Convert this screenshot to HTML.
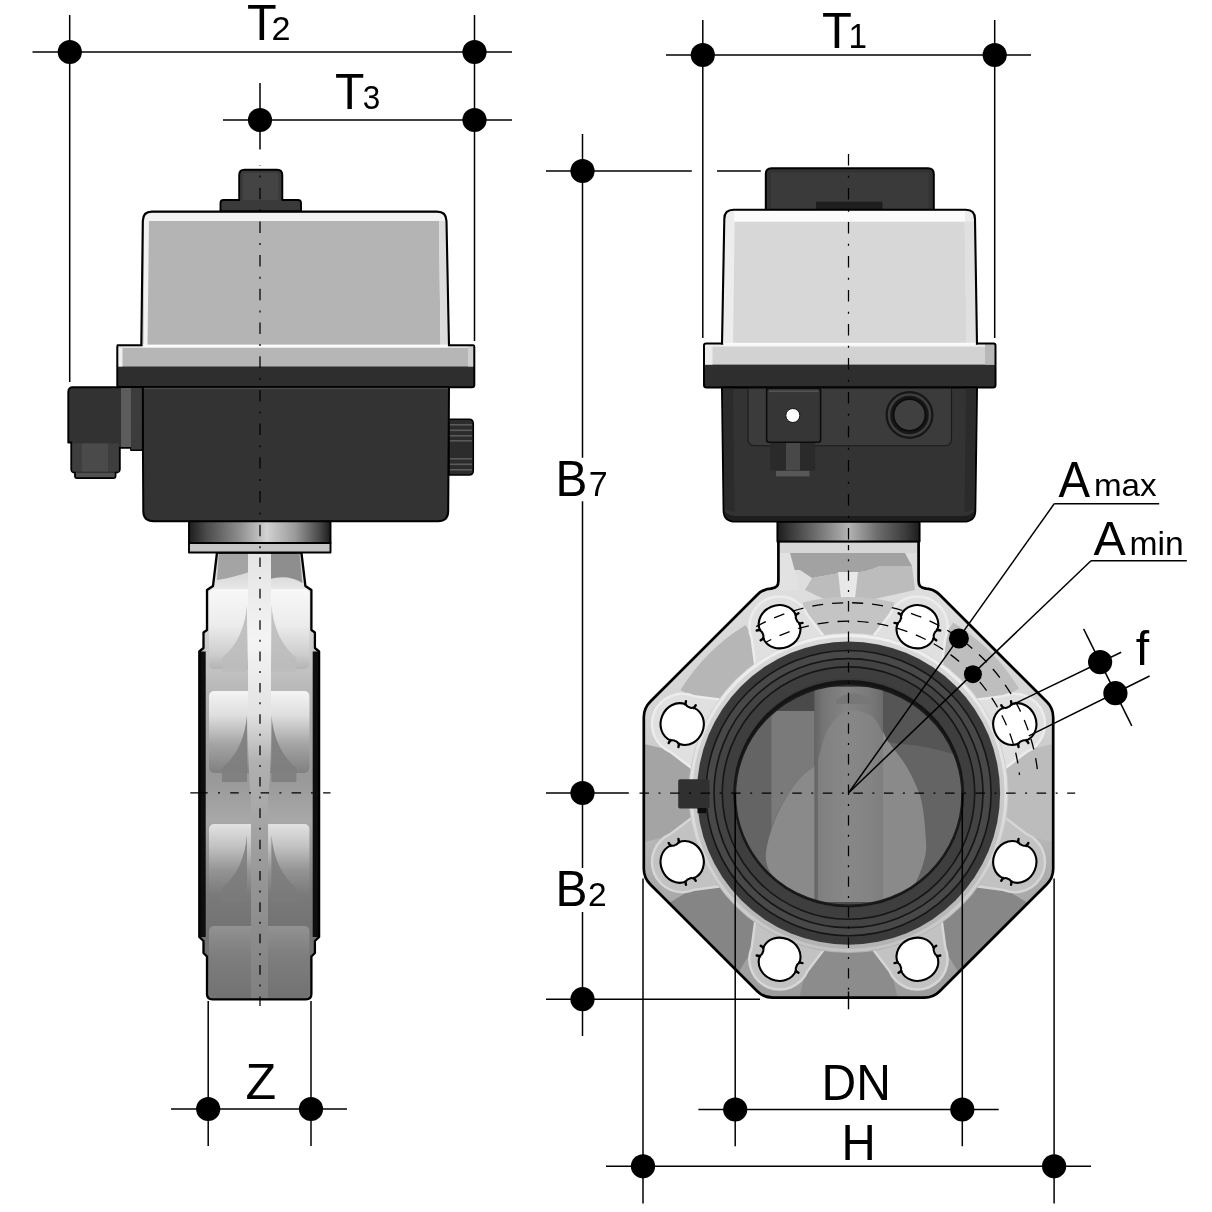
<!DOCTYPE html>
<html lang="en"><head><meta charset="utf-8"><title>Dimensions</title>
<style>
html,body{margin:0;padding:0;background:#fff}
svg{display:block;will-change:transform}
text{font-family:"Liberation Sans",sans-serif;fill:#000}
</style></head>
<body>
<svg width="1212" height="1212" viewBox="0 0 1212 1212">
<rect width="1212" height="1212" fill="#fff"/>
<defs>
<linearGradient id="gNeck" x1="0" y1="0" x2="1" y2="0">
 <stop offset="0" stop-color="#1c1c1c"/><stop offset="0.12" stop-color="#4a4a4a"/>
 <stop offset="0.35" stop-color="#8c8c8c"/><stop offset="0.55" stop-color="#d2d2d2"/>
 <stop offset="0.75" stop-color="#9a9a9a"/><stop offset="0.92" stop-color="#4a4a4a"/>
 <stop offset="1" stop-color="#1c1c1c"/>
</linearGradient>
<linearGradient id="gNeckR" x1="0" y1="0" x2="1" y2="0">
 <stop offset="0" stop-color="#1c1c1c"/><stop offset="0.1" stop-color="#3c3c3c"/>
 <stop offset="0.3" stop-color="#767676"/><stop offset="0.5" stop-color="#b4b4b4"/>
 <stop offset="0.7" stop-color="#6e6e6e"/><stop offset="0.9" stop-color="#3c3c3c"/>
 <stop offset="1" stop-color="#1c1c1c"/>
</linearGradient>
<linearGradient id="gBodyL" gradientUnits="userSpaceOnUse" x1="0" y1="552" x2="0" y2="1000">
 <stop offset="0" stop-color="#c4c4c4"/>
 <stop offset="0.08" stop-color="#e6e6e6"/>
 <stop offset="0.26" stop-color="#c2c2c2"/>
 <stop offset="0.33" stop-color="#b4b4b4"/>
 <stop offset="0.5" stop-color="#989898"/>
 <stop offset="0.6" stop-color="#a8a8a8"/>
 <stop offset="0.76" stop-color="#7a7a7a"/>
 <stop offset="0.85" stop-color="#727272"/>
 <stop offset="1" stop-color="#7a7a7a"/>
</linearGradient>
<linearGradient id="gR1" x1="0" y1="0" x2="0" y2="1">
 <stop offset="0" stop-color="#f8f8f8"/><stop offset="0.45" stop-color="#ececec"/><stop offset="0.8" stop-color="#cfcfcf"/><stop offset="1" stop-color="#b4b4b4"/>
</linearGradient>
<linearGradient id="gR2" x1="0" y1="0" x2="0" y2="1">
 <stop offset="0" stop-color="#f4f4f4"/><stop offset="0.3" stop-color="#dedede"/><stop offset="0.65" stop-color="#a4a4a4"/><stop offset="1" stop-color="#808080"/>
</linearGradient>
<linearGradient id="gR3" x1="0" y1="0" x2="0" y2="1">
 <stop offset="0" stop-color="#e2e2e2"/><stop offset="0.3" stop-color="#c4c4c4"/><stop offset="0.65" stop-color="#949494"/><stop offset="1" stop-color="#7a7a7a"/>
</linearGradient>
<linearGradient id="gR4" x1="0" y1="0" x2="0" y2="1">
 <stop offset="0" stop-color="#929292"/><stop offset="0.4" stop-color="#7e7e7e"/><stop offset="1" stop-color="#727272"/>
</linearGradient>
<linearGradient id="gRib" gradientUnits="userSpaceOnUse" x1="0" y1="552" x2="0" y2="1000">
 <stop offset="0" stop-color="#e4e4e4"/><stop offset="0.2" stop-color="#f4f4f4"/><stop offset="0.36" stop-color="#e2e2e2"/>
 <stop offset="0.47" stop-color="#b0b0b0"/><stop offset="0.6" stop-color="#a6a6a6"/><stop offset="0.75" stop-color="#949494"/><stop offset="1" stop-color="#808080"/>
</linearGradient>
<radialGradient id="gDisc" gradientUnits="userSpaceOnUse" cx="848.5" cy="800" r="120">
 <stop offset="0" stop-color="#7e7e7e"/><stop offset="1" stop-color="#6a6a6a"/>
</radialGradient>
<linearGradient id="gShaft" x1="0" y1="0" x2="1" y2="0">
 <stop offset="0" stop-color="#646464"/><stop offset="0.12" stop-color="#747474"/><stop offset="0.45" stop-color="#848484"/>
 <stop offset="0.8" stop-color="#7a7a7a"/><stop offset="1" stop-color="#6c6c6c"/>
</linearGradient>
<linearGradient id="gFlangeR" gradientUnits="userSpaceOnUse" x1="0" y1="588" x2="0" y2="1000">
 <stop offset="0" stop-color="#dedede"/>
 <stop offset="0.3" stop-color="#d4d4d4"/>
 <stop offset="0.5" stop-color="#c2c2c2"/>
 <stop offset="0.7" stop-color="#acacac"/>
 <stop offset="1" stop-color="#9c9c9c"/>
</linearGradient>
<linearGradient id="gRim" gradientUnits="userSpaceOnUse" x1="0" y1="634" x2="0" y2="951">
 <stop offset="0" stop-color="#dadada"/><stop offset="0.5" stop-color="#cacaca"/><stop offset="1" stop-color="#b2b2b2"/>
</linearGradient>
<linearGradient id="gRimHi" gradientUnits="userSpaceOnUse" x1="0" y1="634" x2="0" y2="951">
 <stop offset="0" stop-color="#f0f0f0"/><stop offset="0.5" stop-color="#e0e0e0"/><stop offset="1" stop-color="#c4c4c4"/>
</linearGradient>
</defs>
<g id="leftview" stroke-linejoin="round">
<clipPath id="cBodyL"><path d="M217,552.5 L213,586 L207,590 L207,630 L203.5,632.5 L203.5,648 L199.3,651.5 L199.3,937 L203.5,941 L203.5,953 L207,956.5 L207,994 Q207,999.3 212.5,999.3 L305.9,999.3 Q311.4,999.3 311.4,994 L311.4,956.5 L314.9,953 L314.9,941 L319.1,937 L319.1,651.5 L314.9,648 L314.9,632.5 L311.4,630 L311.4,590 L305.4,586 L301.4,552.5 Z"/></clipPath>
<path d="M217,552.5 L213,586 L207,590 L207,630 L203.5,632.5 L203.5,648 L199.3,651.5 L199.3,937 L203.5,941 L203.5,953 L207,956.5 L207,994 Q207,999.3 212.5,999.3 L305.9,999.3 Q311.4,999.3 311.4,994 L311.4,956.5 L314.9,953 L314.9,941 L319.1,937 L319.1,651.5 L314.9,648 L314.9,632.5 L311.4,630 L311.4,590 L305.4,586 L301.4,552.5 Z" fill="url(#gBodyL)"/>
<g clip-path="url(#cBodyL)">
<path d="M219,553 L249,553 L249,572 Q235,577 217,580 Z" fill="#a4a4a4"/>
<path d="M269.4,553 L299.4,553 L302.4,583 Q288.4,574 269.4,579 Z" fill="#8e8e8e"/>
<rect x="209" y="589" width="100.4" height="80" rx="5" fill="url(#gR1)"/>
<rect x="209" y="691" width="100.4" height="82" rx="5" fill="url(#gR2)"/>
<rect x="209" y="824" width="100.4" height="71" rx="5" fill="url(#gR3)"/>
<rect x="209" y="926" width="100.4" height="72" rx="5" fill="url(#gR4)"/>
<path d="M247,605 Q244,640 222,658 L222,672 L247,672 Z" fill="#bdbdbd" opacity="0.9"/>
<path d="M271.4,605 Q274.4,640 296.4,658 L296.4,672 L271.4,672 Z" fill="#bdbdbd" opacity="0.9"/>
<path d="M247,715 Q244,750 222,768 L222,782 L247,782 Z" fill="#7e7e7e" opacity="0.9"/>
<path d="M271.4,715 Q274.4,750 296.4,768 L296.4,782 L271.4,782 Z" fill="#7e7e7e" opacity="0.9"/>
<path d="M247,835 Q244,870 222,888 L222,902 L247,902 Z" fill="#7a7a7a" opacity="0.8"/>
<path d="M271.4,835 Q274.4,870 296.4,888 L296.4,902 L271.4,902 Z" fill="#7a7a7a" opacity="0.8"/>
<path d="M248,553 L271,553 L271,700 Q272,760 268,800 L268,998 L251,998 L251,800 Q247,760 248,700 Z" fill="url(#gRib)"/>
</g>
<path d="M199.3,651.5 L205.7,651.5 L205.7,937 L199.3,937 Z" fill="#0e0e0e"/>
<path d="M319.1,651.5 L312.7,651.5 L312.7,937 L319.1,937 Z" fill="#0e0e0e"/>
<path d="M217,552.5 L213,586 L207,590 L207,630 L203.5,632.5 L203.5,648 L199.3,651.5 L199.3,937 L203.5,941 L203.5,953 L207,956.5 L207,994 Q207,999.3 212.5,999.3 L305.9,999.3 Q311.4,999.3 311.4,994 L311.4,956.5 L314.9,953 L314.9,941 L319.1,937 L319.1,651.5 L314.9,648 L314.9,632.5 L311.4,630 L311.4,590 L305.4,586 L301.4,552.5 Z" fill="none" stroke="#000" stroke-width="2.3"/>
<rect x="189" y="521" width="141.5" height="22" fill="url(#gNeck)" stroke="#000" stroke-width="1.9"/>
<rect x="189" y="543" width="141.5" height="9.5" fill="#c6c6c6" stroke="#000" stroke-width="1.9"/>
<path d="M220.5,211.5 L220.5,203 Q220.5,200 223.5,200 L239.2,200 L239.2,175 Q239.2,169.7 244.5,169.7 L277,169.7 Q282.3,169.7 282.3,175 L282.3,200 L298,200 Q301,200 301,203 L301,211.5 Z" fill="#3a3a3a" stroke="#000" stroke-width="1.9"/>
<rect x="243" y="173" width="35.5" height="27" rx="2" fill="#444"/>
<path d="M117.5,345.3 L473.3,345.3 Q474.3,345.3 474.3,347 L474.3,385 Q474.3,387.3 472,387.3 L119.5,387.3 Q117.3,387.3 117.3,385 L117.3,347 Z" fill="#2e2e2e"/>
<rect x="117.5" y="345.5" width="356.5" height="21" fill="#b6b6b6"/>
<rect x="117.5" y="345.5" width="5" height="21" fill="#f0f0f0"/>
<rect x="117.5" y="345.8" width="356.5" height="2.2" fill="#e2e2e2"/>
<rect x="468" y="345.5" width="6" height="21" fill="#cfcfcf"/>
<path d="M117.5,345.3 L473.3,345.3 Q474.3,345.3 474.3,347 L474.3,385 Q474.3,387.3 472,387.3 L119.5,387.3 Q117.3,387.3 117.3,385 L117.3,347 Z" fill="none" stroke="#000" stroke-width="2"/>
<path d="M141.3,345 L142.8,221 Q142.8,211.6 152,211.6 L437,211.6 Q446.3,211.6 446.5,221 L449,345 Z" fill="#b4b4b4"/>
<path d="M143.5,345 L144,221 Q144,212.5 152,212.5 L437,212.5 Q445.5,212.5 445.7,221 L448,345 L440.5,345 L439,221 L149,221 L147.5,345 Z" fill="#f2f2f2"/>
<path d="M439,221 L445.7,221 L448,345 L440.5,345 Z" fill="#dcdcdc"/>
<rect x="142.5" y="344.6" width="305.5" height="2.6" fill="#fafafa"/>
<path d="M141.3,346 L142.8,221 Q142.8,211.6 152,211.6 L437,211.6 Q446.3,211.6 446.5,221 L449,346" fill="none" stroke="#000" stroke-width="2.1"/>
<path d="M142.6,387.3 L449,387.3 L448.2,511 Q448.2,521.2 438,521.2 L153.5,521.2 Q143.3,521.2 143.3,511 Z" fill="#333" stroke="#000" stroke-width="2"/>
<rect x="143.5" y="387.8" width="304.5" height="1.3" fill="#4a4a4a"/>
<path d="M142.6,387.3 L73,387.3 Q68.3,387.3 68.3,392 L68.3,442.5 L71.3,442.5 L71.3,469 Q71.3,472.5 75,472.5 L75,476 Q75,478 77,478 L113.5,478 Q115.5,478 115.5,476 L115.5,472.5 Q119.8,472.5 119.8,469 L119.8,447.8 L131,447.8 L131,450 L142.8,450 Z" fill="#323232" stroke="#000" stroke-width="1.9"/>
<rect x="121" y="388" width="10" height="59" fill="#5c5c5c"/>
<rect x="131.2" y="388" width="10.5" height="61.5" fill="#3c3c3c"/>
<rect x="72.3" y="443.5" width="46.5" height="28" fill="#3e3e3e"/>
<rect x="82" y="443.5" width="26" height="28" fill="#4a4a4a"/>
<rect x="76" y="473" width="38.5" height="4.2" fill="#505050"/>
<path d="M449,419.3 L469,419.3 Q473.3,419.3 473.3,424 L473.3,470.5 Q473.3,475 469,475 L449,475 Z" fill="#2c2c2c" stroke="#000" stroke-width="1.5"/>
<rect x="450" y="424" width="22" height="1.6" fill="#5a5a5a"/>
<rect x="450" y="429.5" width="22" height="1.6" fill="#5a5a5a"/>
<rect x="450" y="435" width="22" height="1.6" fill="#5a5a5a"/>
<rect x="450" y="440" width="22" height="1.6" fill="#5a5a5a"/>
<rect x="450" y="458" width="22" height="1.6" fill="#5a5a5a"/>
<rect x="450" y="463.5" width="22" height="1.6" fill="#5a5a5a"/>
<rect x="450" y="469" width="22" height="1.6" fill="#5a5a5a"/>
</g>
<g id="rightview" stroke-linejoin="round">
<clipPath id="cOct"><path d="M778.4,541 L778.4,581 Q778.4,588.3 771.4,588.3 L772.7,588.3 Q763.7,588.3 757.3,594.7 L650.2,701.8 Q643.8,708.2 643.8,717.2 L643.8,868.8 Q643.8,877.8 650.2,884.2 L757.3,991.3 Q763.7,997.7 772.7,997.7 L924.3,997.7 Q933.3,997.7 939.7,991.3 L1046.8,884.2 Q1053.2,877.8 1053.2,868.8 L1053.2,717.2 Q1053.2,708.2 1046.8,701.8 L939.7,594.7 Q933.3,588.3 924.3,588.3 L925.6,588.3 Q918.6,588.3 918.6,581 L918.6,541 Z"/></clipPath>
<path d="M778.4,541 L778.4,581 Q778.4,588.3 771.4,588.3 L772.7,588.3 Q763.7,588.3 757.3,594.7 L650.2,701.8 Q643.8,708.2 643.8,717.2 L643.8,868.8 Q643.8,877.8 650.2,884.2 L757.3,991.3 Q763.7,997.7 772.7,997.7 L924.3,997.7 Q933.3,997.7 939.7,991.3 L1046.8,884.2 Q1053.2,877.8 1053.2,868.8 L1053.2,717.2 Q1053.2,708.2 1046.8,701.8 L939.7,594.7 Q933.3,588.3 924.3,588.3 L925.6,588.3 Q918.6,588.3 918.6,581 L918.6,541 Z" fill="url(#gFlangeR)"/>
<g clip-path="url(#cOct)">
<rect x="779" y="541" width="139" height="12" fill="#d6d6d6"/>
<path d="M784,553 L905,553 L912,566 L880,566 Q860,575 845,572 L812,578 L800,570 L784,570 Z" fill="#a2a2a2"/>
<path d="M812,578 L845,572 Q860,575 880,566 L912,566 L915,590 L870,600 L826,600 L805,590 Z" fill="#bcbcbc"/>
<path d="M779,553 L790,553 L800,590 L779,590 Z" fill="#e2e2e2"/>
<path d="M838,572 L848,660 L858,572 Z" fill="#e8e8e8"/>
<path d="M828,1000 Q830,975 848,972 Q868,975 870,1000 Z" fill="#b4b4b4"/>
<path d="M1072.1,739.3 L1074.1,748.1 L1075.7,757.0 L1076.9,766.0 L1077.8,775.0 L1078.3,784.0 L1078.5,793.0 L1078.3,802.0 L1077.8,811.0 L1076.9,820.0 L1075.7,829.0 L1074.1,837.9 L1072.1,846.7 L994.4,828.0 L995.6,822.3 L996.7,816.5 L997.5,810.6 L998.0,804.8 L998.4,798.9 L998.5,793.0 L998.4,787.1 L998.0,781.2 L997.5,775.4 L996.7,769.5 L995.6,763.7 L994.4,758.0 Z" fill="#bcbcbc" opacity="1"/>
<path d="M1044.6,913.2 L1039.7,920.8 L1034.6,928.2 L1029.1,935.4 L1023.4,942.4 L1017.4,949.1 L1011.1,955.6 L1004.6,961.9 L997.9,967.9 L990.9,973.6 L983.7,979.1 L976.3,984.2 L968.7,989.1 L926.9,920.9 L931.8,917.7 L936.7,914.4 L941.4,910.8 L945.9,907.1 L950.3,903.1 L954.6,899.1 L958.6,894.8 L962.6,890.4 L966.3,885.9 L969.9,881.2 L973.2,876.3 L976.4,871.4 Z" fill="#878787" opacity="1"/>
<path d="M902.2,1016.6 L893.4,1018.6 L884.5,1020.2 L875.5,1021.4 L866.5,1022.3 L857.5,1022.8 L848.5,1023.0 L839.5,1022.8 L830.5,1022.3 L821.5,1021.4 L812.5,1020.2 L803.6,1018.6 L794.8,1016.6 L813.5,938.9 L819.2,940.1 L825.0,941.2 L830.9,942.0 L836.7,942.5 L842.6,942.9 L848.5,943.0 L854.4,942.9 L860.3,942.5 L866.1,942.0 L872.0,941.2 L877.8,940.1 L883.5,938.9 Z" fill="#8c8c8c" opacity="1"/>
<path d="M728.3,989.1 L720.7,984.2 L713.3,979.1 L706.1,973.6 L699.1,967.9 L692.4,961.9 L685.9,955.6 L679.6,949.1 L673.6,942.4 L667.9,935.4 L662.4,928.2 L657.3,920.8 L652.4,913.2 L720.6,871.4 L723.8,876.3 L727.1,881.2 L730.7,885.9 L734.4,890.4 L738.4,894.8 L742.4,899.1 L746.7,903.1 L751.1,907.1 L755.6,910.8 L760.3,914.4 L765.2,917.7 L770.1,920.9 Z" fill="#858585" opacity="1"/>
<path d="M624.9,846.7 L622.9,837.9 L621.3,829.0 L620.1,820.0 L619.2,811.0 L618.7,802.0 L618.5,793.0 L618.7,784.0 L619.2,775.0 L620.1,766.0 L621.3,757.0 L622.9,748.1 L624.9,739.3 L702.6,758.0 L701.4,763.7 L700.3,769.5 L699.5,775.4 L699.0,781.2 L698.6,787.1 L698.5,793.0 L698.6,798.9 L699.0,804.8 L699.5,810.6 L700.3,816.5 L701.4,822.3 L702.6,828.0 Z" fill="#a4a4a4" opacity="1"/>
<path d="M680.5,690.1 L684.7,683.6 L689.1,677.2 L693.8,671.0 L698.7,665.1 L703.8,659.3 L709.2,653.7 L714.8,648.3 L720.6,643.2 L726.5,638.3 L732.7,633.6 L739.1,629.2 L745.6,625.0 L770.1,665.1 L765.2,668.3 L760.3,671.6 L755.6,675.2 L751.1,678.9 L746.7,682.9 L742.4,686.9 L738.4,691.2 L734.4,695.6 L730.7,700.1 L727.1,704.8 L723.8,709.7 L720.6,714.6 Z" fill="#b6b6b6" opacity="1"/>
<path d="M802.7,602.4 L810.3,600.8 L817.8,599.4 L825.5,598.4 L833.1,597.6 L840.8,597.2 L848.5,597.0 L856.2,597.2 L863.9,597.6 L871.5,598.4 L879.2,599.4 L886.7,600.8 L894.3,602.4 L883.5,647.1 L877.8,645.9 L872.0,644.8 L866.1,644.0 L860.3,643.5 L854.4,643.1 L848.5,643.0 L842.6,643.1 L836.7,643.5 L830.9,644.0 L825.0,644.8 L819.2,645.9 L813.5,647.1 Z" fill="#c4c4c4" opacity="1"/>
<path d="M953.0,622.5 L959.6,626.7 L966.1,631.2 L972.3,635.9 L978.4,640.9 L984.3,646.1 L989.9,651.6 L995.4,657.2 L1000.6,663.1 L1005.6,669.2 L1010.3,675.4 L1014.8,681.9 L1019.0,688.5 L976.4,714.6 L973.2,709.7 L969.9,704.8 L966.3,700.1 L962.6,695.6 L958.6,691.2 L954.6,686.9 L950.3,682.9 L945.9,678.9 L941.4,675.2 L936.7,671.6 L931.8,668.3 L926.9,665.1 Z" fill="#bebebe" opacity="1"/>
<path d="M972.0,886.9 L1002.7,891.0 A31.5,31.5 0 0 0 1026.9,832.8 L1002.2,813.9 Z" fill="#d6d6d6"/>
<path d="M972.9,884.6 L1003.7,888.7 A29,29 0 0 0 1025.9,835.1 L1001.2,816.2 Z" fill="#c2c2c2"/>
<path d="M869.4,946.7 L888.3,971.4 A31.5,31.5 0 0 0 946.5,947.2 L942.4,916.5 Z" fill="#d6d6d6"/>
<path d="M871.7,945.7 L890.6,970.4 A29,29 0 0 0 944.2,948.2 L940.1,917.4 Z" fill="#c2c2c2"/>
<path d="M754.6,916.5 L750.5,947.2 A31.5,31.5 0 0 0 808.7,971.4 L827.6,946.7 Z" fill="#d6d6d6"/>
<path d="M756.9,917.4 L752.8,948.2 A29,29 0 0 0 806.4,970.4 L825.3,945.7 Z" fill="#c2c2c2"/>
<path d="M694.8,813.9 L670.1,832.8 A31.5,31.5 0 0 0 694.3,891.0 L725.0,886.9 Z" fill="#d6d6d6"/>
<path d="M695.8,816.2 L671.1,835.1 A29,29 0 0 0 693.3,888.7 L724.1,884.6 Z" fill="#c2c2c2"/>
<path d="M725.0,699.1 L694.3,695.0 A31.5,31.5 0 0 0 670.1,753.2 L694.8,772.1 Z" fill="#ececec"/>
<path d="M724.1,701.4 L693.3,697.3 A29,29 0 0 0 671.1,750.9 L695.8,769.8 Z" fill="#e0e0e0"/>
<path d="M827.6,639.3 L808.7,614.6 A31.5,31.5 0 0 0 750.5,638.8 L754.6,669.5 Z" fill="#ececec"/>
<path d="M825.3,640.3 L806.4,615.6 A29,29 0 0 0 752.8,637.8 L756.9,668.6 Z" fill="#e0e0e0"/>
<path d="M942.4,669.5 L946.5,638.8 A31.5,31.5 0 0 0 888.3,614.6 L869.4,639.3 Z" fill="#ececec"/>
<path d="M940.1,668.6 L944.2,637.8 A29,29 0 0 0 890.6,615.6 L871.7,640.3 Z" fill="#e0e0e0"/>
<path d="M1002.2,772.1 L1026.9,753.2 A31.5,31.5 0 0 0 1002.7,695.0 L972.0,699.1 Z" fill="#ececec"/>
<path d="M1001.2,769.8 L1025.9,750.9 A29,29 0 0 0 1003.7,697.3 L972.9,701.4 Z" fill="#e0e0e0"/>
</g>
<circle cx="848.5" cy="793.0" r="160" fill="url(#gRim)"/>
<circle cx="848.5" cy="793.0" r="157.5" fill="none" stroke="url(#gRimHi)" stroke-width="3"/>
<circle cx="848.5" cy="793.1" r="151.6" fill="#3a3a3a"/>
<circle cx="848.5" cy="793.1" r="138.5" fill="none" stroke="#484848" stroke-width="7.5"/>
<circle cx="848.5" cy="793.1" r="130.3" fill="none" stroke="#434343" stroke-width="7.5"/>
<circle cx="848.5" cy="793.1" r="120.5" fill="none" stroke="#3e3e3e" stroke-width="11"/>
<circle cx="848.5" cy="793.1" r="142.6" fill="none" stroke="#161616" stroke-width="1.6"/>
<circle cx="848.5" cy="793.1" r="134.5" fill="none" stroke="#161616" stroke-width="1.6"/>
<circle cx="848.5" cy="793.1" r="126.2" fill="none" stroke="#161616" stroke-width="1.6"/>
<ellipse cx="848.7" cy="793.7" rx="115.4" ry="113.6" fill="#141414"/>
<rect x="678.2" y="779.2" width="31.3" height="29.3" rx="1.8" fill="#303030"/>
<rect x="697.5" y="808" width="8.7" height="5.2" fill="#0c0c0c"/>
<clipPath id="cDisc"><ellipse cx="848.7" cy="795.0" rx="113.3" ry="110.3"/></clipPath>
<g clip-path="url(#cDisc)">
<rect x="730" y="680" width="240" height="230" fill="#646464"/>
<rect x="730" y="680" width="240" height="31" fill="#4a4a4a"/>
<path d="M883,686 L970,686 L970,760 Q930,745 900,744 L883,741 Z" fill="#555"/>
<path d="M771.5,711 L814.4,711 L814.4,766.6 C800,775 790.8,790 785,800 C778,810 773,822 771.5,830 Z" fill="#7a7a7a"/>
<path d="M848.8,710.8 C838,713 828,725 823,741 L814.4,766.6 C800,775 790.8,790 785,800 C775,815 768,838 766,852 C765,862 768,870 771.5,874 L790,908 L905,908 L919.6,873.8 C925,860 927,850 926,841.6 C925,825 924,810 920,795 C915,783 910,770 900,757 C893,748 890,744 887.4,740.8 C882,728 877,719 870.2,715 C862,711 855,710 848.8,710.8 Z" fill="#8a8a8a"/>
<rect x="814.4" y="687" width="68.6" height="215" fill="url(#gShaft)"/>
<path d="M848.8,710.8 C838,713 828,725 823,741 L818,760 L818,902 L883,902 L883,735 C880,725 876,719 870.2,715 C862,711 855,710 848.8,710.8 Z" fill="#8a8a8a" opacity="0.6"/>
<path d="M836,700 Q850,688 870,698 L872,704 L836,704 Z" fill="#777"/>
<rect x="730" y="902" width="240" height="10" fill="#4c4c4c"/>
</g>
<ellipse cx="848.7" cy="795.0" rx="113.3" ry="110.3" fill="none" stroke="#1c1c1c" stroke-width="1.5"/>
<g transform="translate(1014.8,861.9) rotate(22.5)">
<path d="M-4.2,-19.6 Q-2,-17.8 0,-18.3 Q2,-17.8 4.2,-19.6 C15,-19.3 21.6,-10 21.6,0 C21.6,10 15,19.3 4.2,19.6 Q2,17.8 0,18.3 Q-2,17.8 -4.2,19.6 C-15,19.3 -21.6,10 -21.6,0 C-21.6,-10 -15,-19.3 -4.2,-19.6 Z" fill="#fff" stroke="#000" stroke-width="2.1"/>
<line x1="-4.6" y1="-19.20" x2="-5.29" y2="-22.60" stroke="#000" stroke-width="2.4" stroke-linecap="round"/>
<line x1="-4.6" y1="19.20" x2="-5.29" y2="22.60" stroke="#000" stroke-width="2.4" stroke-linecap="round"/>
<line x1="4.6" y1="-19.20" x2="5.29" y2="-22.60" stroke="#000" stroke-width="2.4" stroke-linecap="round"/>
<line x1="4.6" y1="19.20" x2="5.29" y2="22.60" stroke="#000" stroke-width="2.4" stroke-linecap="round"/>
</g>
<g transform="translate(917.4,959.3) rotate(67.5)">
<path d="M-4.2,-19.6 Q-2,-17.8 0,-18.3 Q2,-17.8 4.2,-19.6 C15,-19.3 21.6,-10 21.6,0 C21.6,10 15,19.3 4.2,19.6 Q2,17.8 0,18.3 Q-2,17.8 -4.2,19.6 C-15,19.3 -21.6,10 -21.6,0 C-21.6,-10 -15,-19.3 -4.2,-19.6 Z" fill="#fff" stroke="#000" stroke-width="2.1"/>
<line x1="-4.6" y1="-19.20" x2="-5.29" y2="-22.60" stroke="#000" stroke-width="2.4" stroke-linecap="round"/>
<line x1="-4.6" y1="19.20" x2="-5.29" y2="22.60" stroke="#000" stroke-width="2.4" stroke-linecap="round"/>
<line x1="4.6" y1="-19.20" x2="5.29" y2="-22.60" stroke="#000" stroke-width="2.4" stroke-linecap="round"/>
<line x1="4.6" y1="19.20" x2="5.29" y2="22.60" stroke="#000" stroke-width="2.4" stroke-linecap="round"/>
</g>
<g transform="translate(779.6,959.3) rotate(112.5)">
<path d="M-4.2,-19.6 Q-2,-17.8 0,-18.3 Q2,-17.8 4.2,-19.6 C15,-19.3 21.6,-10 21.6,0 C21.6,10 15,19.3 4.2,19.6 Q2,17.8 0,18.3 Q-2,17.8 -4.2,19.6 C-15,19.3 -21.6,10 -21.6,0 C-21.6,-10 -15,-19.3 -4.2,-19.6 Z" fill="#fff" stroke="#000" stroke-width="2.1"/>
<line x1="-4.6" y1="-19.20" x2="-5.29" y2="-22.60" stroke="#000" stroke-width="2.4" stroke-linecap="round"/>
<line x1="-4.6" y1="19.20" x2="-5.29" y2="22.60" stroke="#000" stroke-width="2.4" stroke-linecap="round"/>
<line x1="4.6" y1="-19.20" x2="5.29" y2="-22.60" stroke="#000" stroke-width="2.4" stroke-linecap="round"/>
<line x1="4.6" y1="19.20" x2="5.29" y2="22.60" stroke="#000" stroke-width="2.4" stroke-linecap="round"/>
</g>
<g transform="translate(682.2,861.9) rotate(157.5)">
<path d="M-4.2,-19.6 Q-2,-17.8 0,-18.3 Q2,-17.8 4.2,-19.6 C15,-19.3 21.6,-10 21.6,0 C21.6,10 15,19.3 4.2,19.6 Q2,17.8 0,18.3 Q-2,17.8 -4.2,19.6 C-15,19.3 -21.6,10 -21.6,0 C-21.6,-10 -15,-19.3 -4.2,-19.6 Z" fill="#fff" stroke="#000" stroke-width="2.1"/>
<line x1="-4.6" y1="-19.20" x2="-5.29" y2="-22.60" stroke="#000" stroke-width="2.4" stroke-linecap="round"/>
<line x1="-4.6" y1="19.20" x2="-5.29" y2="22.60" stroke="#000" stroke-width="2.4" stroke-linecap="round"/>
<line x1="4.6" y1="-19.20" x2="5.29" y2="-22.60" stroke="#000" stroke-width="2.4" stroke-linecap="round"/>
<line x1="4.6" y1="19.20" x2="5.29" y2="22.60" stroke="#000" stroke-width="2.4" stroke-linecap="round"/>
</g>
<g transform="translate(682.2,724.1) rotate(202.5)">
<path d="M-4.2,-19.6 Q-2,-17.8 0,-18.3 Q2,-17.8 4.2,-19.6 C15,-19.3 21.6,-10 21.6,0 C21.6,10 15,19.3 4.2,19.6 Q2,17.8 0,18.3 Q-2,17.8 -4.2,19.6 C-15,19.3 -21.6,10 -21.6,0 C-21.6,-10 -15,-19.3 -4.2,-19.6 Z" fill="#fff" stroke="#000" stroke-width="2.1"/>
<line x1="-4.6" y1="-19.20" x2="-5.29" y2="-22.60" stroke="#000" stroke-width="2.4" stroke-linecap="round"/>
<line x1="-4.6" y1="19.20" x2="-5.29" y2="22.60" stroke="#000" stroke-width="2.4" stroke-linecap="round"/>
<line x1="4.6" y1="-19.20" x2="5.29" y2="-22.60" stroke="#000" stroke-width="2.4" stroke-linecap="round"/>
<line x1="4.6" y1="19.20" x2="5.29" y2="22.60" stroke="#000" stroke-width="2.4" stroke-linecap="round"/>
</g>
<g transform="translate(779.6,626.7) rotate(247.5)">
<path d="M-4.2,-19.6 Q-2,-17.8 0,-18.3 Q2,-17.8 4.2,-19.6 C15,-19.3 21.6,-10 21.6,0 C21.6,10 15,19.3 4.2,19.6 Q2,17.8 0,18.3 Q-2,17.8 -4.2,19.6 C-15,19.3 -21.6,10 -21.6,0 C-21.6,-10 -15,-19.3 -4.2,-19.6 Z" fill="#fff" stroke="#000" stroke-width="2.1"/>
<line x1="-4.6" y1="-19.20" x2="-5.29" y2="-22.60" stroke="#000" stroke-width="2.4" stroke-linecap="round"/>
<line x1="-4.6" y1="19.20" x2="-5.29" y2="22.60" stroke="#000" stroke-width="2.4" stroke-linecap="round"/>
<line x1="4.6" y1="-19.20" x2="5.29" y2="-22.60" stroke="#000" stroke-width="2.4" stroke-linecap="round"/>
<line x1="4.6" y1="19.20" x2="5.29" y2="22.60" stroke="#000" stroke-width="2.4" stroke-linecap="round"/>
</g>
<g transform="translate(917.4,626.7) rotate(292.5)">
<path d="M-4.2,-19.6 Q-2,-17.8 0,-18.3 Q2,-17.8 4.2,-19.6 C15,-19.3 21.6,-10 21.6,0 C21.6,10 15,19.3 4.2,19.6 Q2,17.8 0,18.3 Q-2,17.8 -4.2,19.6 C-15,19.3 -21.6,10 -21.6,0 C-21.6,-10 -15,-19.3 -4.2,-19.6 Z" fill="#fff" stroke="#000" stroke-width="2.1"/>
<line x1="-4.6" y1="-19.20" x2="-5.29" y2="-22.60" stroke="#000" stroke-width="2.4" stroke-linecap="round"/>
<line x1="-4.6" y1="19.20" x2="-5.29" y2="22.60" stroke="#000" stroke-width="2.4" stroke-linecap="round"/>
<line x1="4.6" y1="-19.20" x2="5.29" y2="-22.60" stroke="#000" stroke-width="2.4" stroke-linecap="round"/>
<line x1="4.6" y1="19.20" x2="5.29" y2="22.60" stroke="#000" stroke-width="2.4" stroke-linecap="round"/>
</g>
<g transform="translate(1014.8,724.1) rotate(337.5)">
<path d="M-4.2,-19.6 Q-2,-17.8 0,-18.3 Q2,-17.8 4.2,-19.6 C15,-19.3 21.6,-10 21.6,0 C21.6,10 15,19.3 4.2,19.6 Q2,17.8 0,18.3 Q-2,17.8 -4.2,19.6 C-15,19.3 -21.6,10 -21.6,0 C-21.6,-10 -15,-19.3 -4.2,-19.6 Z" fill="#fff" stroke="#000" stroke-width="2.1"/>
<line x1="-4.6" y1="-19.20" x2="-5.29" y2="-22.60" stroke="#000" stroke-width="2.4" stroke-linecap="round"/>
<line x1="-4.6" y1="19.20" x2="-5.29" y2="22.60" stroke="#000" stroke-width="2.4" stroke-linecap="round"/>
<line x1="4.6" y1="-19.20" x2="5.29" y2="-22.60" stroke="#000" stroke-width="2.4" stroke-linecap="round"/>
<line x1="4.6" y1="19.20" x2="5.29" y2="22.60" stroke="#000" stroke-width="2.4" stroke-linecap="round"/>
</g>
<path d="M778.4,541 L778.4,581 Q778.4,588.3 771.4,588.3 L772.7,588.3 Q763.7,588.3 757.3,594.7 L650.2,701.8 Q643.8,708.2 643.8,717.2 L643.8,868.8 Q643.8,877.8 650.2,884.2 L757.3,991.3 Q763.7,997.7 772.7,997.7 L924.3,997.7 Q933.3,997.7 939.7,991.3 L1046.8,884.2 Q1053.2,877.8 1053.2,868.8 L1053.2,717.2 Q1053.2,708.2 1046.8,701.8 L939.7,594.7 Q933.3,588.3 924.3,588.3 L925.6,588.3 Q918.6,588.3 918.6,581 L918.6,541 Z" fill="none" stroke="#000" stroke-width="2.7"/>
<rect x="777.4" y="521.5" width="142.2" height="20" fill="url(#gNeckR)" stroke="#000" stroke-width="1.9"/>
<path d="M765.8,210 L765.8,174 Q765.8,168.3 771.5,168.3 L928,168.3 Q933.8,168.3 933.8,174 L933.8,210 Z" fill="#333" stroke="#000" stroke-width="2"/>
<rect x="771" y="172.5" width="157.5" height="37" fill="#3a3a3a"/>
<rect x="816" y="201.7" width="66.5" height="8" fill="#1e1e1e"/>
<path d="M704,345.5 Q704,343.6 706,343.6 L993.5,343.6 Q995.5,343.6 995.5,345.5 L995.5,385 Q995.5,387.5 993,387.5 L706.5,387.5 Q704,387.5 704,385 Z" fill="#2e2e2e"/>
<rect x="704.5" y="344" width="290.5" height="20.6" fill="#d2d2d2"/>
<rect x="704.5" y="344" width="8" height="20.6" fill="#ececec"/>
<rect x="704.5" y="344.2" width="290.5" height="2.4" fill="#f0f0f0"/>
<rect x="985" y="344" width="10" height="20.6" fill="#b8b8b8"/>
<path d="M704,345.5 Q704,343.6 706,343.6 L993.5,343.6 Q995.5,343.6 995.5,345.5 L995.5,385 Q995.5,387.5 993,387.5 L706.5,387.5 Q704,387.5 704,385 Z" fill="none" stroke="#000" stroke-width="2"/>
<path d="M722,343.4 L724.3,219 Q724.3,209.8 733.5,209.8 L965.8,209.8 Q975,209.8 975,219 L977,343.4 Z" fill="#d7d7d7"/>
<path d="M723,343.4 L725.2,219 Q725.2,210.7 733.5,210.7 L965.8,210.7 Q974,210.7 974,219 L976,343.4 L966.5,343.4 L964.7,221.5 L734.7,221.5 L733,343.4 Z" fill="#ededed"/>
<path d="M964.7,221.5 L974,221.5 L976,343.4 L966.5,343.4 Z" fill="#e0e0e0"/>
<rect x="734" y="211" width="231" height="10.5" fill="#fbfbfb"/>
<rect x="723.3" y="342.8" width="252.5" height="2.6" fill="#fafafa"/>
<path d="M722,344.4 L724.3,219 Q724.3,209.8 733.5,209.8 L965.8,209.8 Q975,209.8 975,219 L977,344.4" fill="none" stroke="#000" stroke-width="2.1"/>
<path d="M722,387.5 L977,387.5 L975.3,510 Q975.3,521.6 963.5,521.6 L735.5,521.6 Q723.6,521.6 723.6,510 Z" fill="#333" stroke="#000" stroke-width="2"/>
<path d="M724,511 Q729,516 736,516 L963,516 Q970,516 974.5,511 Q974.5,520.8 963.5,520.8 L735.5,520.8 Q724.4,520.8 724,511 Z" fill="#1e1e1e"/>
<path d="M723,388.5 L733,388.5 L734.5,512 Q729,512 724.6,508 Z" fill="#2b2b2b"/>
<path d="M976,388.5 L966,388.5 L964.5,512 Q970,512 974.4,508 Z" fill="#2b2b2b"/>
<path d="M748,388.3 L951.5,388.3 L951.5,439 Q951.5,445.7 945,445.7 L754.5,445.7 Q748,445.7 748,439 Z" fill="#3b3b3b" stroke="#1a1a1a" stroke-width="1.1"/>
<path d="M770.3,441 L815.2,441 L815.2,470.4 L809.6,470.4 L809.6,476.5 L776,476.5 L776,470.4 L770.3,470.4 Z" fill="#2a2a2a"/>
<rect x="786" y="442" width="14" height="28.4" fill="#484848"/>
<rect x="776" y="470.8" width="33.6" height="5.7" fill="#585858"/>
<rect x="766.6" y="388.3" width="54" height="54" rx="2.5" fill="#363636" stroke="#0c0c0c" stroke-width="1.6"/>
<rect x="769" y="390.5" width="49.5" height="1.6" fill="#555"/>
<circle cx="792.8" cy="415.5" r="7" fill="#fff" stroke="#111" stroke-width="1"/>
<circle cx="909.5" cy="414.9" r="24" fill="#161616"/>
<circle cx="909.5" cy="414.9" r="20.5" fill="none" stroke="#3e3e3e" stroke-width="2.5"/>
<circle cx="909.5" cy="414.9" r="15.8" fill="#404040" stroke="#0c0c0c" stroke-width="1.6"/>
</g>
<path d="M756.2,626.6 A190.3,190.3 0 0 1 1038.1,776.4" fill="none" stroke="#000" stroke-width="1.3" stroke-dasharray="11 9"/>
<path d="M765.2,642.7 A171.9,171.9 0 0 1 1019.5,775.0" fill="none" stroke="#000" stroke-width="1.3" stroke-dasharray="11 9" stroke-dashoffset="4"/>
<g id="dims">
<line x1="260.0" y1="83" x2="260.0" y2="149.5" stroke="#000" stroke-width="1.5" />
<line x1="260.0" y1="165" x2="260.0" y2="552" stroke="#000" stroke-width="1.25" stroke-dasharray="11.5 10.1 2 10.1" stroke-dashoffset="11"/>
<line x1="260.0" y1="552" x2="260.0" y2="1010" stroke="#000" stroke-width="1.25" stroke-dasharray="9.6 9.87 2 9.88" stroke-dashoffset="25.85"/>
<line x1="190.3" y1="792.8" x2="330.5" y2="792.8" stroke="#000" stroke-width="1.25" stroke-dasharray="17.4 10.3 2 10.2 8.5 10.3 2 9.6 8.5 10.3 2 10.2 9.5 9.8 2 10.2 9"/>
<line x1="848.5" y1="154" x2="848.5" y2="545" stroke="#000" stroke-width="1.25" stroke-dasharray="11.6 10.2 2 10.2"/>
<line x1="848.5" y1="545" x2="848.5" y2="991.5" stroke="#000" stroke-width="1.25" stroke-dasharray="10.4 9.1 2 9.1" stroke-dashoffset="5.2"/>
<line x1="848.5" y1="991.5" x2="848.5" y2="1009.3" stroke="#000" stroke-width="1.4" />
<line x1="639.5" y1="793.0" x2="1075.2" y2="793.0" stroke="#000" stroke-width="1.25" stroke-dasharray="9.5 9.5 2 9.55"/>
<line x1="32.5" y1="52" x2="512" y2="52" stroke="#000" stroke-width="1.5" />
<line x1="69.7" y1="15" x2="69.7" y2="382" stroke="#000" stroke-width="1.5" />
<line x1="474.5" y1="15" x2="474.5" y2="341" stroke="#000" stroke-width="1.5" />
<circle cx="69.8" cy="52" r="12.1" fill="#000"/>
<circle cx="474.5" cy="52" r="12.1" fill="#000"/>
<line x1="223" y1="120" x2="512" y2="120" stroke="#000" stroke-width="1.5" />
<circle cx="260.0" cy="120" r="12.1" fill="#000"/>
<circle cx="474.5" cy="120" r="12.1" fill="#000"/>
<line x1="666" y1="55" x2="1031" y2="55" stroke="#000" stroke-width="1.5" />
<line x1="702.8" y1="20" x2="702.8" y2="338" stroke="#000" stroke-width="1.5" />
<line x1="994.7" y1="20" x2="994.7" y2="338" stroke="#000" stroke-width="1.5" />
<circle cx="702.8" cy="55" r="12.1" fill="#000"/>
<circle cx="994.7" cy="55" r="12.1" fill="#000"/>
<line x1="582.5" y1="134" x2="582.5" y2="457.7" stroke="#000" stroke-width="1.5" />
<line x1="582.5" y1="501.2" x2="582.5" y2="868" stroke="#000" stroke-width="1.5" />
<line x1="582.5" y1="912" x2="582.5" y2="1036" stroke="#000" stroke-width="1.5" />
<line x1="546" y1="171" x2="691.8" y2="171" stroke="#000" stroke-width="1.5" />
<line x1="717" y1="171" x2="760.8" y2="171" stroke="#000" stroke-width="1.5" />
<line x1="546" y1="793.0" x2="628.8" y2="793.0" stroke="#000" stroke-width="1.5" />
<line x1="546" y1="999.2" x2="760" y2="999.2" stroke="#000" stroke-width="1.5" />
<circle cx="582.5" cy="171" r="12.1" fill="#000"/>
<circle cx="582.5" cy="793.0" r="12.1" fill="#000"/>
<circle cx="582.5" cy="999.2" r="12.1" fill="#000"/>
<line x1="171" y1="1109" x2="347" y2="1109" stroke="#000" stroke-width="1.5" />
<line x1="208.2" y1="1001" x2="208.2" y2="1146" stroke="#000" stroke-width="1.5" />
<line x1="311" y1="1001" x2="311" y2="1146" stroke="#000" stroke-width="1.5" />
<circle cx="208.2" cy="1109" r="12.1" fill="#000"/>
<circle cx="311" cy="1109" r="12.1" fill="#000"/>
<line x1="698.4" y1="1109.5" x2="998.7" y2="1109.5" stroke="#000" stroke-width="1.5" />
<line x1="735.2" y1="793.0" x2="735.2" y2="1146.3" stroke="#000" stroke-width="1.5" />
<line x1="962.3" y1="793.0" x2="962.3" y2="1146.3" stroke="#000" stroke-width="1.5" />
<circle cx="735.2" cy="1109.5" r="12.1" fill="#000"/>
<circle cx="962.3" cy="1109.5" r="12.1" fill="#000"/>
<line x1="606" y1="1166.3" x2="1091" y2="1166.3" stroke="#000" stroke-width="1.5" />
<line x1="643" y1="878.5" x2="643" y2="1203.5" stroke="#000" stroke-width="1.5" />
<line x1="1054.1" y1="878.5" x2="1054.1" y2="1203.5" stroke="#000" stroke-width="1.5" />
<circle cx="643" cy="1166.3" r="12.1" fill="#000"/>
<circle cx="1054.1" cy="1166.3" r="12.1" fill="#000"/>
<line x1="848.5" y1="793.0" x2="1054.2" y2="503.8" stroke="#000" stroke-width="1.5" />
<line x1="1054.2" y1="503.8" x2="1159.2" y2="503.8" stroke="#000" stroke-width="1.5" />
<line x1="848.5" y1="793.0" x2="1091" y2="560.7" stroke="#000" stroke-width="1.5" />
<line x1="1091" y1="560.7" x2="1186.8" y2="560.7" stroke="#000" stroke-width="1.5" />
<circle cx="958.9" cy="638.4" r="10" fill="#000"/>
<circle cx="972.9" cy="674.2" r="9" fill="#000"/>
<line x1="1013.5" y1="704.2" x2="1121.2" y2="652.2" stroke="#000" stroke-width="1.5" />
<line x1="1028.8" y1="735.8" x2="1149.6" y2="676" stroke="#000" stroke-width="1.5" />
<line x1="1083.6" y1="628.8" x2="1131.8" y2="725.9" stroke="#000" stroke-width="1.5" />
<circle cx="1100.1" cy="662.1" r="12.1" fill="#000"/>
<circle cx="1115.4" cy="693.2" r="12.1" fill="#000"/>
<text transform="translate(247.03,40.30) scale(1,1.020)" font-size="48.59">T</text>
<text transform="translate(271.49,40.00) scale(1,0.984)" font-size="34.21">2</text>
<text transform="translate(335.04,108.90) scale(1,1.031)" font-size="48.06">T</text>
<text transform="translate(362.71,108.76) scale(1,1.078)" font-size="31.43">3</text>
<text transform="translate(822.02,48.40) scale(1,1.016)" font-size="48.94">T</text>
<text transform="translate(848.57,48.40) scale(1,1.040)" font-size="33.26">1</text>
<text transform="translate(555.38,495.70) scale(1,1.038)" font-size="47.74">B</text>
<text transform="translate(588.86,495.70) scale(1,1.007)" font-size="34.07">7</text>
<text transform="translate(555.47,906.10) scale(1,1.031)" font-size="47.93">B</text>
<text transform="translate(587.92,905.90) scale(1,1.003)" font-size="33.55">2</text>
<text transform="translate(1058.61,496.50) scale(1,1.037)" font-size="47.36">A</text>
<text transform="translate(1093.91,496.39) scale(1,0.923)" font-size="33.22">max</text>
<text transform="translate(1093.40,554.60) scale(1,1.003)" font-size="48.42">A</text>
<text transform="translate(1129.58,554.60) scale(1,0.971)" font-size="33.65">min</text>
<text transform="translate(245.49,1098.70) scale(1,0.999)" font-size="50.18">Z</text>
<text transform="translate(821.56,1099.50) scale(1,1.051)" font-size="48.01">DN</text>
<text transform="translate(841.51,1159.80) scale(1,1.036)" font-size="47.41">H</text>
<text transform="translate(1135.63,664.60) scale(1,0.994)" font-size="48.20">f</text>
</g>
</svg>
</body></html>
